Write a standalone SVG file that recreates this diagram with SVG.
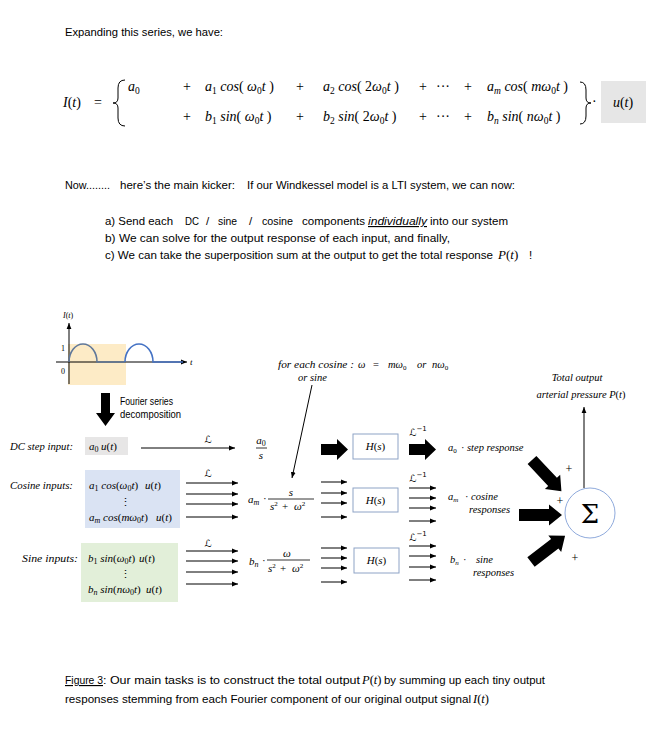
<svg xmlns="http://www.w3.org/2000/svg" width="669" height="733" viewBox="0 0 669 733">
<defs>
<style>
.b{font-family:"Liberation Sans",Arial,sans-serif;font-size:11.5px;fill:#000}
.m{font-family:"Liberation Serif","DejaVu Serif",serif;font-style:italic;fill:#000}
.e{font-size:14px}
.s{font-size:11px}
.t{font-size:10.5px}
.up{font-style:normal}
.L{font-family:"DejaVu Sans",sans-serif;font-style:normal;font-size:10px;fill:#000}
.thin{stroke:#000;stroke-width:1;fill:none}
.box{fill:#fff;stroke:#8ea3c6;stroke-width:1}
</style>
<marker id="ah" markerWidth="6" markerHeight="6" refX="6" refY="3" orient="auto" markerUnits="userSpaceOnUse"><path d="M0,0.6 L6,3 L0,5.4 z" fill="#000"/></marker>
<path id="big" d="M0,-6 L30,-6 L30,-10.5 L43,0 L30,10.5 L30,6 L0,6 Z" fill="#000"/>
<path id="med" d="M0,-5.5 L16,-5.5 L16,-10.5 L27,0 L16,10.5 L16,5.5 L0,5.5 Z" fill="#000"/>
</defs>
<rect width="669" height="733" fill="#fff"/>

<g id="intro">
<text class="b" x="65" y="36" textLength="158" lengthAdjust="spacingAndGlyphs">Expanding this series, we have:</text>
</g>

<g id="equation">
<text class="m e" x="63" y="107">I<tspan class="up">(</tspan>t<tspan class="up">)</tspan></text>
<text class="m e up" x="94" y="107">=</text>
<path d="M125,80 Q118,80 118,88 L118,98 Q118,103 113,103 Q118,103 118,108 L118,118 Q118,126 125,126" class="thin" stroke-width="1.5"/>
<path d="M580,82 Q586,82 586,90 L586,98 Q586,103 591,103 Q586,103 586,108 L586,116 Q586,124 580,124" class="thin" stroke-width="1.5"/>
<text class="m e" x="128" y="91">a<tspan font-size="9.5" dy="3" class="up">0</tspan></text>
<text class="m e up" x="183" y="91">+</text>
<text class="m e" x="205" y="91">a<tspan font-size="9.5" dy="3" class="up">1</tspan><tspan dy="-3"> cos</tspan><tspan class="up">( </tspan>ω<tspan font-size="9.5" dy="3" class="up">0</tspan><tspan dy="-3">t</tspan><tspan class="up"> )</tspan></text>
<text class="m e up" x="296" y="91">+</text>
<text class="m e" x="323" y="91">a<tspan font-size="9.5" dy="3" class="up">2</tspan><tspan dy="-3"> cos</tspan><tspan class="up">( 2</tspan>ω<tspan font-size="9.5" dy="3" class="up">0</tspan><tspan dy="-3">t</tspan><tspan class="up"> )</tspan></text>
<text class="m e up" x="419" y="91">+</text>
<text class="m e up" x="436" y="91">···</text>
<text class="m e up" x="464" y="91">+</text>
<text class="m e" x="487" y="91">a<tspan font-size="9.5" dy="3">m</tspan><tspan dy="-3"> cos</tspan><tspan class="up">( </tspan>mω<tspan font-size="9.5" dy="3" class="up">0</tspan><tspan dy="-3">t</tspan><tspan class="up"> )</tspan></text>

<text class="m e up" x="183" y="121">+</text>
<text class="m e" x="205" y="121">b<tspan font-size="9.5" dy="3" class="up">1</tspan><tspan dy="-3"> sin</tspan><tspan class="up">( </tspan>ω<tspan font-size="9.5" dy="3" class="up">0</tspan><tspan dy="-3">t</tspan><tspan class="up"> )</tspan></text>
<text class="m e up" x="296" y="121">+</text>
<text class="m e" x="323" y="121">b<tspan font-size="9.5" dy="3" class="up">2</tspan><tspan dy="-3"> sin</tspan><tspan class="up">( 2</tspan>ω<tspan font-size="9.5" dy="3" class="up">0</tspan><tspan dy="-3">t</tspan><tspan class="up"> )</tspan></text>
<text class="m e up" x="419" y="121">+</text>
<text class="m e up" x="436" y="121">···</text>
<text class="m e up" x="464" y="121">+</text>
<text class="m e" x="487" y="121">b<tspan font-size="9.5" dy="3">n</tspan><tspan dy="-3"> sin</tspan><tspan class="up">( </tspan>nω<tspan font-size="9.5" dy="3" class="up">0</tspan><tspan dy="-3">t</tspan><tspan class="up"> )</tspan></text>

<text class="m e up" x="592" y="106">·</text>
<rect x="601" y="81" width="45" height="42" fill="#e6e6e6"/>
<text class="m e" x="623" y="107" text-anchor="middle">u<tspan class="up">(</tspan>t<tspan class="up">)</tspan></text>
</g>

<g id="paragraph">
<text class="b" x="65" y="189" textLength="45" lengthAdjust="spacingAndGlyphs">Now........</text>
<text class="b" x="120" y="189" textLength="115" lengthAdjust="spacingAndGlyphs">here’s the main kicker:</text>
<text class="b" x="247" y="189" textLength="268" lengthAdjust="spacingAndGlyphs">If our Windkessel model is a LTI system, we can now:</text>

<text class="b" x="105" y="225" textLength="68" lengthAdjust="spacingAndGlyphs">a) Send each</text>
<text class="b" x="185" y="225" textLength="14" lengthAdjust="spacingAndGlyphs">DC</text>
<text class="b" x="206" y="225">/</text>
<text class="b" x="218" y="225" textLength="19" lengthAdjust="spacingAndGlyphs">sine</text>
<text class="b" x="249" y="225">/</text>
<text class="b" x="262" y="225" textLength="31" lengthAdjust="spacingAndGlyphs">cosine</text>
<text class="b" x="302" y="225" textLength="63" lengthAdjust="spacingAndGlyphs">components</text>
<text class="b" x="368" y="225" textLength="59" lengthAdjust="spacingAndGlyphs" font-style="italic" text-decoration="underline">individually</text>
<text class="b" x="430" y="225" textLength="78" lengthAdjust="spacingAndGlyphs">into our system</text>

<text class="b" x="105" y="242" textLength="345" lengthAdjust="spacingAndGlyphs">b) We can solve for the output response of each input, and finally,</text>
<text class="b" x="105" y="259" textLength="388" lengthAdjust="spacingAndGlyphs">c) We can take the superposition sum at the output to get the total response</text>
<text class="m" font-size="13" x="498" y="259">P<tspan class="up">(</tspan>t<tspan class="up">)</tspan></text>
<text class="b" x="529" y="259">!</text>
</g>

<g id="signal-graph">
<rect x="68" y="344" width="58" height="41" fill="#fdebc6"/>
<line x1="69" y1="384" x2="69" y2="323" class="thin" marker-end="url(#ah)"/>
<line x1="56" y1="362" x2="187" y2="362" class="thin" marker-end="url(#ah)"/>
<path d="M69,362 A14,18 0 0 1 97,362 L125,362" fill="none" stroke="#60789a" stroke-width="1.6"/>
<path d="M125,362 A14,18 0 0 1 153,362 L183,362" fill="none" stroke="#4472c4" stroke-width="1.6"/>
<text class="m" font-size="8" x="63" y="318">I<tspan class="up">(</tspan>t<tspan class="up">)</tspan></text>
<text class="m up" font-size="8" x="61" y="351">1</text>
<text class="m up" font-size="8" x="61" y="374">0</text>
<text class="m" font-size="9" x="190" y="365">t</text>
</g>

<g id="decomposition">
<path d="M101,393 L110,393 L110,413 L115,413 L105.5,426 L96,413 L101,413 Z" fill="#000"/>
<text class="b" font-size="9" x="120" y="405" textLength="53" lengthAdjust="spacingAndGlyphs">Fourier series</text>
<text class="b" font-size="9" x="120" y="418" textLength="61" lengthAdjust="spacingAndGlyphs">decomposition</text>
</g>

<g id="dc-input">
<text class="m s" x="10" y="450" textLength="63" lengthAdjust="spacingAndGlyphs">DC step input:</text>
<rect x="85" y="437" width="43" height="18" fill="#e7e6e6"/>
<text class="m s" x="89" y="450">a<tspan font-size="8" dy="2" class="up">0</tspan><tspan dy="-2" x="101">u</tspan><tspan class="up">(</tspan>t<tspan class="up">)</tspan></text>
</g>

<g id="cosine-inputs">
<text class="m s" x="10" y="489" textLength="63" lengthAdjust="spacingAndGlyphs">Cosine inputs:</text>
<rect x="85" y="470" width="95" height="58" fill="#dae3f3"/>
<text class="m s" x="89" y="489">a<tspan font-size="8" dy="2" class="up">1</tspan><tspan dy="-2"> cos</tspan><tspan class="up">(</tspan>ω<tspan font-size="8" dy="2" class="up">0</tspan><tspan dy="-2">t</tspan><tspan class="up">)</tspan><tspan x="145">u</tspan><tspan class="up">(</tspan>t<tspan class="up">)</tspan></text>
<text class="m s up" x="125" y="506" text-anchor="middle">⋮</text>
<text class="m s" x="89" y="521">a<tspan font-size="8" dy="2">m</tspan><tspan dy="-2"> cos</tspan><tspan class="up">(</tspan>mω<tspan font-size="8" dy="2" class="up">0</tspan><tspan dy="-2">t</tspan><tspan class="up">)</tspan><tspan x="156">u</tspan><tspan class="up">(</tspan>t<tspan class="up">)</tspan></text>
</g>

<g id="sine-inputs">
<text class="m s" x="22" y="562" textLength="56" lengthAdjust="spacingAndGlyphs">Sine inputs:</text>
<rect x="81" y="543" width="97" height="59" fill="#e2efd9"/>
<text class="m s" x="88" y="562">b<tspan font-size="8" dy="2" class="up">1</tspan><tspan dy="-2"> sin</tspan><tspan class="up">(</tspan>ω<tspan font-size="8" dy="2" class="up">0</tspan><tspan dy="-2">t</tspan><tspan class="up">)</tspan><tspan x="139">u</tspan><tspan class="up">(</tspan>t<tspan class="up">)</tspan></text>
<text class="m s up" x="125" y="578" text-anchor="middle">⋮</text>
<text class="m s" x="88" y="593">b<tspan font-size="8" dy="2">n</tspan><tspan dy="-2"> sin</tspan><tspan class="up">(</tspan>nω<tspan font-size="8" dy="2" class="up">0</tspan><tspan dy="-2">t</tspan><tspan class="up">)</tspan><tspan x="146">u</tspan><tspan class="up">(</tspan>t<tspan class="up">)</tspan></text>
</g>

<g id="laplace-forms">
<text class="m s" x="261" y="444" text-anchor="middle">a<tspan font-size="8" dy="2" class="up">0</tspan></text>
<line x1="256" y1="448" x2="267" y2="448" stroke="#000" stroke-width="0.8"/>
<text class="m s" x="261" y="459" text-anchor="middle">s</text>

<text class="m s" x="248" y="503">a<tspan font-size="8" dy="2">m</tspan></text>
<text class="m s up" x="263" y="502">·</text>
<text class="m s" x="291" y="496" text-anchor="middle">s</text>
<line x1="268" y1="499" x2="314" y2="499" stroke="#000" stroke-width="0.8"/>
<text class="m s" x="270" y="510">s<tspan font-size="7" dy="-4" class="up">2</tspan><tspan dy="4" class="up" x="282">+</tspan><tspan x="294">ω</tspan><tspan font-size="7" dy="-4" class="up">2</tspan></text>

<text class="m s" x="249" y="565">b<tspan font-size="8" dy="2">n</tspan></text>
<text class="m s up" x="262" y="564">·</text>
<text class="m s" x="287" y="557" text-anchor="middle">ω</text>
<line x1="267" y1="560" x2="310" y2="560" stroke="#000" stroke-width="0.8"/>
<text class="m s" x="268" y="572">s<tspan font-size="7" dy="-4" class="up">2</tspan><tspan dy="4" class="up" x="280">+</tspan><tspan x="292">ω</tspan><tspan font-size="7" dy="-4" class="up">2</tspan></text>

<text class="m t" x="278" y="368" textLength="76" lengthAdjust="spacingAndGlyphs">for each cosine :</text>
<text class="m t" x="358" y="368">ω</text>
<text class="m t up" x="373" y="368">=</text>
<text class="m t" x="388" y="368">mω<tspan font-size="7" dy="2" class="up">0</tspan></text>
<text class="m t" x="417" y="368">or</text>
<text class="m t" x="432" y="368">nω<tspan font-size="7" dy="2" class="up">0</tspan></text>
<text class="m t" x="298" y="381">or sine</text>
</g>

<g id="h-dc"><rect class="box" x="353" y="434" width="45" height="25"/><text class="m s" x="375.5" y="450" text-anchor="middle">H<tspan class="up">(</tspan>s<tspan class="up">)</tspan></text></g>
<g id="h-cos"><rect class="box" x="353" y="488" width="45" height="24"/><text class="m s" x="375.5" y="504" text-anchor="middle">H<tspan class="up">(</tspan>s<tspan class="up">)</tspan></text></g>
<g id="h-sin"><rect class="box" x="354" y="548" width="45" height="25"/><text class="m s" x="376.5" y="564" text-anchor="middle">H<tspan class="up">(</tspan>s<tspan class="up">)</tspan></text></g>

<g id="responses">
<text class="m t" x="448" y="451">a<tspan font-size="7" dy="2" class="up">0</tspan><tspan dy="-2" class="up" x="461">·</tspan><tspan x="467">step response</tspan></text>
<text class="m t" x="448" y="500">a<tspan font-size="7" dy="2">m</tspan><tspan dy="-2" class="up" x="465">·</tspan><tspan x="471">cosine</tspan></text>
<text class="m t" x="469" y="513">responses</text>
<text class="m t" x="450" y="563">b<tspan font-size="7" dy="2">n</tspan><tspan dy="-2" class="up" x="463">·</tspan><tspan x="476">sine</tspan></text>
<text class="m t" x="473" y="576">responses</text>
</g>

<g id="sum">
<circle cx="590" cy="513" r="25" fill="#fff" stroke="#8faadc" stroke-width="1"/>
<text x="590" y="523" text-anchor="middle" font-family="'DejaVu Serif','Liberation Serif',serif" font-size="26" fill="#000">Σ</text>
<text class="m up" font-size="12" x="569" y="473" text-anchor="middle">+</text>
<text class="m up" font-size="12" x="560" y="505" text-anchor="middle">+</text>
<text class="m up" font-size="12" x="575" y="562" text-anchor="middle">+</text>
</g>

<g id="total-output">
<text class="m t" x="577" y="381" text-anchor="middle">Total output</text>
<text class="m t" x="581" y="398" text-anchor="middle">arterial pressure <tspan>P</tspan><tspan class="up">(</tspan>t<tspan class="up">)</tspan></text>
</g>

<g id="connectors">
<line x1="141" y1="448" x2="235" y2="448" class="thin" marker-end="url(#ah)"/>
<text class="L" x="208" y="443" text-anchor="middle">ℒ</text>
<text class="L" x="208" y="477" text-anchor="middle">ℒ</text>
<text class="L" x="208" y="547" text-anchor="middle">ℒ</text>
<g class="thin" marker-end="url(#ah)">
<line x1="186" y1="483" x2="238" y2="483"/><line x1="186" y1="494" x2="238" y2="494"/><line x1="186" y1="504" x2="238" y2="504"/><line x1="186" y1="517" x2="238" y2="517"/>
<line x1="186" y1="551" x2="238" y2="551"/><line x1="186" y1="561" x2="238" y2="561"/><line x1="186" y1="572" x2="238" y2="572"/><line x1="186" y1="584" x2="238" y2="584"/>
<line x1="321" y1="482" x2="347" y2="482"/><line x1="321" y1="493" x2="347" y2="493"/><line x1="321" y1="503" x2="347" y2="503"/><line x1="321" y1="517" x2="347" y2="517"/>
<line x1="321" y1="548" x2="347" y2="548"/><line x1="321" y1="558" x2="347" y2="558"/><line x1="321" y1="568" x2="347" y2="568"/><line x1="321" y1="582" x2="347" y2="582"/>
<line x1="409" y1="488" x2="436" y2="488"/><line x1="409" y1="498" x2="436" y2="498"/><line x1="409" y1="508" x2="436" y2="508"/><line x1="409" y1="521" x2="436" y2="521"/>
<line x1="409" y1="546" x2="436" y2="546"/><line x1="409" y1="556" x2="436" y2="556"/><line x1="409" y1="567" x2="436" y2="567"/><line x1="409" y1="580" x2="436" y2="580"/>
<line x1="312" y1="385" x2="292" y2="478"/>
<line x1="584" y1="488" x2="584" y2="407"/>
</g>
<text class="L" x="418" y="436" text-anchor="middle">ℒ<tspan font-size="7" dy="-5">−1</tspan></text>
<text class="L" x="418" y="482" text-anchor="middle">ℒ<tspan font-size="7" dy="-5">−1</tspan></text>
<text class="L" x="418" y="541" text-anchor="middle">ℒ<tspan font-size="7" dy="-5">−1</tspan></text>
<use href="#med" transform="translate(321,449.5)"/>
<use href="#med" transform="translate(409,449.5)"/>
<use href="#big" transform="translate(532,460) rotate(46.8)"/>
<use href="#big" transform="translate(519,515)"/>
<use href="#big" transform="translate(531,562) rotate(-37.6)"/>
</g>

<g id="caption">
<text class="b" x="65" y="684" textLength="38" lengthAdjust="spacingAndGlyphs" text-decoration="underline">Figure 3</text>
<text class="b" x="103" y="684" textLength="257" lengthAdjust="spacingAndGlyphs">:  Our main tasks is to construct the total output</text>
<text class="m" font-size="12.5" x="362" y="684">P<tspan class="up">(</tspan>t<tspan class="up">)</tspan></text>
<text class="b" x="384" y="684" textLength="161" lengthAdjust="spacingAndGlyphs">by summing up each tiny output</text>
<text class="b" x="65" y="703" textLength="406" lengthAdjust="spacingAndGlyphs">responses stemming from each Fourier component of our original output signal</text>
<text class="m" font-size="12.5" x="473" y="703">I<tspan class="up">(</tspan>t<tspan class="up">)</tspan></text>
</g>
</svg>
